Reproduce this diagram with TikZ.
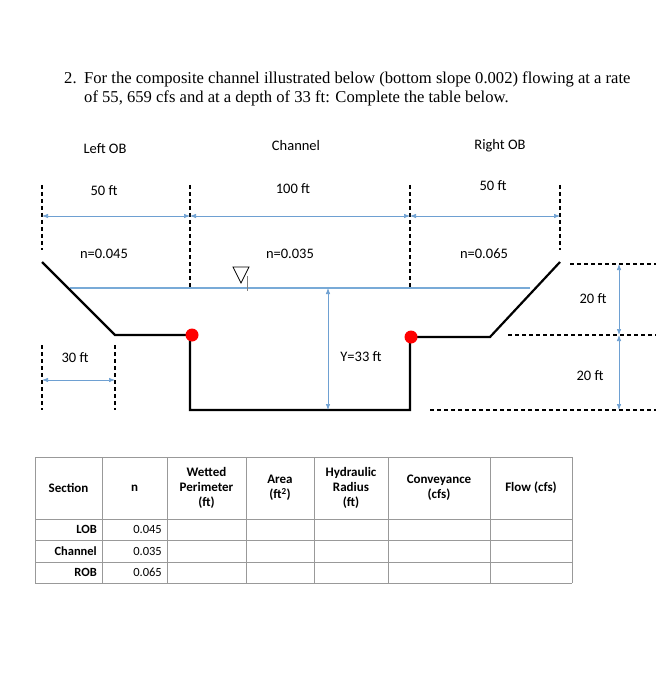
\documentclass[tikz,border=0pt]{standalone}
\usepackage{fontspec}
\setmainfont{Carlito}
\newfontfamily\serifz{Liberation Serif}
\usetikzlibrary{arrows.meta}
\definecolor{dimblue}{RGB}{110,160,210}
\definecolor{water}{RGB}{120,170,215}
\tikzset{
  dashv/.style={draw=black,line width=1.1pt,dash pattern=on 4pt off 3pt},
  dimarrow/.style={draw=dimblue,line width=0.7pt,{Latex[length=6pt,width=4.5pt]}-{Latex[length=6pt,width=4.5pt]}},
  bank/.style={draw=black,line width=2.2pt},
  lbl/.style={font=\fontsize{14.5}{17}\selectfont,inner sep=0pt},
  hdr/.style={font=\fontsize{13}{15}\selectfont\bfseries,align=center,inner sep=0pt},
  cell/.style={font=\fontsize{12.5}{14}\selectfont,inner sep=0pt},
  tline/.style={draw=gray!80,line width=0.9pt},
  dot/.style={circle,fill=red,inner sep=0pt,minimum size=13pt}
}
\begin{document}
\begin{tikzpicture}[x=1pt,y=-1pt]
\useasboundingbox (0,0) rectangle (660,700);
% title
\node[anchor=base west,inner sep=0pt,font=\serifz\fontsize{16.6}{19}\selectfont] (num) at (64,84) {2.};
\node[anchor=base west,inner sep=0pt,font=\serifz\fontsize{16.6}{19}\selectfont] (t1) at (84,84) {For the composite channel illustrated below (bottom slope 0.002) flowing at a rate};
\node[anchor=base west,inner sep=0pt,font=\serifz\fontsize{16.6}{19}\selectfont] (t2) at (84,103) {of 55, 659 cfs and at a depth of 33 ft: Complete the table below.};
% headings
\node[lbl] (hl) at (105,149) {Left OB};
\node[lbl] (hc) at (296,146) {Channel};
\node[lbl] (hr) at (500,146) {Right OB};
% vertical dashed lines
\coordinate (d1a) at (42,185); \coordinate (d1b) at (42,250);
\coordinate (d2a) at (190,185); \coordinate (d2b) at (190,288);
\coordinate (d3a) at (410,185); \coordinate (d3b) at (410,288);
\coordinate (d4a) at (560,185); \coordinate (d4b) at (560,250);
\draw[dashv] (d1a)--(d1b); \draw[dashv] (d2a)--(d2b);
\draw[dashv] (d3a)--(d3b); \draw[dashv] (d4a)--(d4b);
\coordinate (a1) at (42,216); \coordinate (a2) at (190,216);
\coordinate (a3) at (410,216); \coordinate (a4) at (560,216);
\draw[dimarrow] (a1)--(a2); \draw[dimarrow] (a2)--(a3); \draw[dimarrow] (a3)--(a4);
\node[lbl] (w1) at (104,191) {50 ft};
\node[lbl] (w2) at (293,189) {100 ft};
\node[lbl] (w3) at (493,186) {50 ft};
\node[lbl] (n1) at (104,254) {n=0.045};
\node[lbl] (n2) at (290,254) {n=0.035};
\node[lbl] (n3) at (484,254) {n=0.065};
% water
\coordinate (wa) at (70,288); \coordinate (wb) at (530,288);
\draw[draw=water,line width=2pt] (wa)--(wb);
\draw[black,line width=0.7pt] (233,267)--(249,267)--(241,283)--cycle;
\draw[gray,line width=0.7pt] (247,276)--(247,291);
% section
\coordinate (p1) at (42,262); \coordinate (p2) at (115,335); \coordinate (p3) at (190,335);
\coordinate (p4) at (190,410); \coordinate (p5) at (410,410); \coordinate (p6) at (410,337);
\coordinate (p7) at (490,337); \coordinate (p8) at (560,262);
\draw[bank,line join=miter] (p1)--(p2)--(p3)--(p4)--(p5)--(p6)--(p7)--(p8);
\node[dot] (r1) at (192,335) {};
\node[dot] (r2) at (411,337) {};
% Y dimension
\coordinate (y1) at (328,288); \coordinate (y2) at (328,410);
\draw[dimarrow] (y1)--(y2);
\node[lbl] (yl) at (361,357) {Y=33 ft};
% right dims
\coordinate (h1a) at (570,264); \coordinate (h1b) at (656,264);
\coordinate (h2a) at (508,335); \coordinate (h2b) at (656,335);
\coordinate (h3a) at (430,410); \coordinate (h3b) at (656,410);
\draw[dashv] (h1a)--(h1b); \draw[dashv] (h2a)--(h2b); \draw[dashv] (h3a)--(h3b);
\coordinate (v1) at (619,264); \coordinate (v2) at (619,335); \coordinate (v3) at (619,410);
\draw[dimarrow] (v1)--(v2); \draw[dimarrow] (v2)--(v3);
\node[lbl] (l20a) at (593,299) {20 ft};
\node[lbl] (l20b) at (590,376) {20 ft};
% 30 ft
\coordinate (e1a) at (42,345); \coordinate (e1b) at (42,410);
\coordinate (e2a) at (115,345); \coordinate (e2b) at (115,410);
\draw[dashv] (e1a)--(e1b); \draw[dashv] (e2a)--(e2b);
\coordinate (b1) at (42,380); \coordinate (b2) at (115,380);
\draw[dimarrow] (b1)--(b2);
\node[lbl] (l30) at (75,358) {30 ft};
% table
\foreach \x in {35,102,167,246,314,388,490,572} \draw[tline] (\x,457)--(\x,583);
\foreach \y in {457,519,540,562,583} \draw[tline] (35,\y)--(572,\y);
\node[hdr] (c1) at (68.5,488) {Section};
\node[hdr] (c2) at (134.5,488) {n};
\node[hdr] (c3) at (206.5,488) {Wetted\\Perimeter\\(ft)};
\node[hdr] (c4) at (280,488) {Area\\(ft\textsuperscript{2})};
\node[hdr] (c5) at (351,488) {Hydraulic\\Radius\\(ft)};
\node[hdr] (c6) at (439,488) {Conveyance\\(cfs)};
\node[hdr] (c7) at (531,488) {Flow (cfs)};
\node[cell,anchor=east,font=\fontsize{12.5}{14}\selectfont\bfseries] (s1) at (97,529.5) {LOB};
\node[cell,anchor=east,font=\fontsize{12.5}{14}\selectfont\bfseries] (s2) at (97,551) {Channel};
\node[cell,anchor=east,font=\fontsize{12.5}{14}\selectfont\bfseries] (s3) at (97,572.5) {ROB};
\node[cell,anchor=east] (m1) at (162,529.5) {0.045};
\node[cell,anchor=east] (m2) at (162,551) {0.035};
\node[cell,anchor=east] (m3) at (162,572.5) {0.065};
\end{tikzpicture}
\end{document}
